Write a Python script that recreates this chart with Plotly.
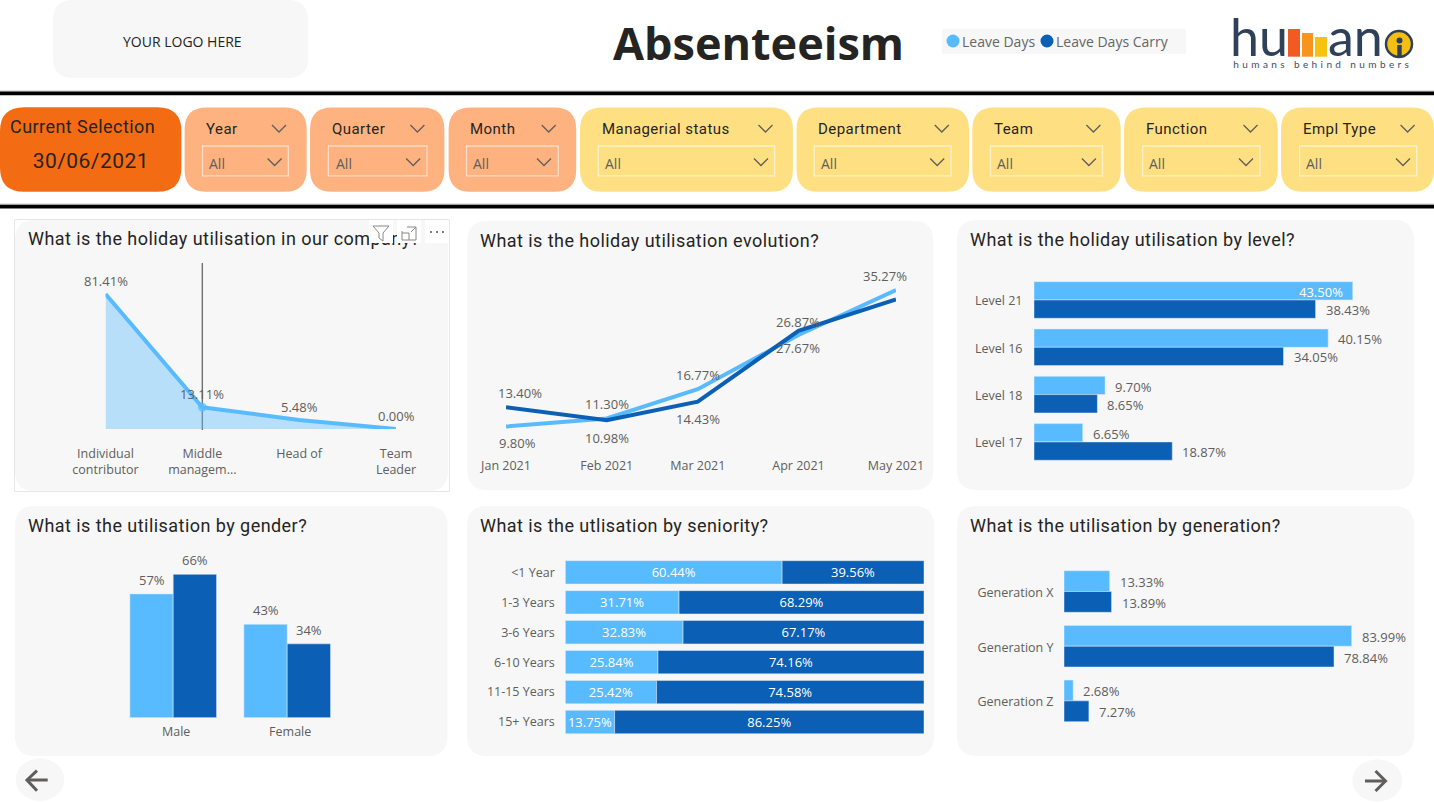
import plotly.graph_objects as go

W, H = 1434, 803
LIGHT = "#59BBFF"
DARK = "#0B5FB4"
AREA = "rgba(89,187,255,0.40)"
CARD = "#F7F7F7"
GREY = "#605E5C"
INK = "#252423"
DIN = "Roboto"
SEGOE = "Open Sans"

# ---------- data ----------
series_names = ["Leave Days", "Leave Days Carry"]
mgmt_cats = ["Individual<br>contributor", "Middle<br>managem...", "Head of", "Team<br>Leader"]
mgmt_vals = [81.41, 13.11, 5.48, 0.00]

months = ["2021-01-01", "2021-02-01", "2021-03-01", "2021-04-01", "2021-05-01"]
evo_light = [9.80, 11.30, 16.77, 26.87, 35.27]
evo_dark = [13.40, 10.98, 14.43, 27.67, 33.5]
evo_dark_labels = ["13.40%", "10.98%", "14.43%", "27.67%", ""]

level_cats = ["Level 21", "Level 16", "Level 18", "Level 17"]
level_light = [43.50, 40.15, 9.70, 6.65]
level_dark = [38.43, 34.05, 8.65, 18.87]

gender_cats = ["Male", "Female"]
gender_light = [57, 43]
gender_dark = [66, 34]

seniority_cats = ["<1 Year", "1-3 Years", "3-6 Years", "6-10 Years", "11-15 Years", "15+ Years"]
seniority_light = [60.44, 31.71, 32.83, 25.84, 25.42, 13.75]
seniority_dark = [39.56, 68.29, 67.17, 74.16, 74.58, 86.25]

generation_cats = ["Generation X", "Generation Y", "Generation Z"]
generation_light = [13.33, 83.99, 2.68]
generation_dark = [13.89, 78.84, 7.27]

card_titles = [
    "What is the holiday utilisation in our company?",
    "What is the holiday utilisation evolution?",
    "What is the holiday utilisation by level?",
    "What is the utilisation by gender?",
    "What is the utlisation by seniority?",
    "What is the utilisation by generation?",
]
slicer_names = ["Year", "Quarter", "Month", "Managerial status", "Department", "Team", "Function", "Empl Type"]

# ---------- helpers ----------
PX = lambda x: x / W
PY = lambda y: 1 - y / H
shapes, annos = [], []


def rrect(x0, y0, x1, y1, r, fill, line=None, layer="below"):
    a, b, c, d = PX(x0), PX(x1), PY(y0), PY(y1)
    rx, ry = r / W, r / H
    p = (f"M{a+rx},{c} L{b-rx},{c} Q{b},{c} {b},{c-ry} L{b},{d+ry} Q{b},{d} {b-rx},{d} "
         f"L{a+rx},{d} Q{a},{d} {a},{d+ry} L{a},{c-ry} Q{a},{c} {a+rx},{c} Z")
    shapes.append(dict(type="path", xref="paper", yref="paper", path=p, fillcolor=fill,
                       line=dict(width=0) if line is None else dict(width=1, color=line), layer=layer))


def rect(x0, y0, x1, y1, fill, line=None, layer="below", lw=1):
    shapes.append(dict(type="rect", xref="paper", yref="paper", x0=PX(x0), x1=PX(x1), y0=PY(y0), y1=PY(y1),
                       fillcolor=fill, line=dict(width=0) if line is None else dict(width=lw, color=line), layer=layer))


def ellipse(x0, y0, x1, y1, fill, line=None, layer="below", lw=1):
    shapes.append(dict(type="circle", xref="paper", yref="paper", x0=PX(x0), x1=PX(x1), y0=PY(y0), y1=PY(y1),
                       fillcolor=fill, line=dict(width=0) if line is None else dict(width=lw, color=line), layer=layer))


def poly(pts, color=GREY, width=1.3, layer="above"):
    p = "M" + " L".join(f"{PX(x)},{PY(y)}" for x, y in pts)
    shapes.append(dict(type="path", xref="paper", yref="paper", path=p, line=dict(color=color, width=width), layer=layer))


def text(x, y, s, size, color=INK, family=DIN, anchor="left", weight=None):
    f = dict(size=size, color=color, family=family)
    if weight:
        f["weight"] = weight
    annos.append(dict(xref="x7", yref="y7", x=x, y=y, text=s, showarrow=False, font=f,
                      xanchor=anchor, yanchor="middle", align=anchor, borderpad=0, borderwidth=0))


def chevron(cx, cy):
    poly([(cx - 7, cy - 3.5), (cx, cy + 3.5), (cx + 7, cy - 3.5)])


def label(ax, x, y, s, xshift=0, yshift=0, anchor="center", color=GREY):
    annos.append(dict(xref=f"x{ax}", yref=f"y{ax}", x=x, y=y, text=s, showarrow=False,
                      font=dict(size=13, color=color, family=SEGOE), xanchor=anchor, yanchor="middle",
                      xshift=xshift, yshift=yshift, borderpad=0))


TICKFONT = dict(size=12.5, color=GREY, family=SEGOE)
fig = go.Figure()


def panel(n, x0, x1, ytop, ybot, xa=None, ya=None):
    base = dict(showgrid=False, zeroline=False, showline=False, tickfont=TICKFONT, fixedrange=True,
                tickcolor="rgba(0,0,0,0)", ticks="outside", tickwidth=1)
    xd = dict(base, domain=[PX(x0), PX(x1)], anchor=f"y{n}", **(xa or {}))
    yd = dict(base, domain=[PY(ybot), PY(ytop)], anchor=f"x{n}", **(ya or {}))
    fig.update_layout({f"xaxis{n}": xd, f"yaxis{n}": yd})


# ---------- page furniture ----------
rrect(53, 0, 308, 78, 20, CARD)
text(182, 41, "YOUR LOGO HERE", 14, INK, SEGOE, "center")
text(758, 42, "Absenteeism", 45, INK, SEGOE, "center", 700)

rect(942, 29, 1186, 54, CARD)
ellipse(946.5, 34.5, 959.5, 47.5, LIGHT)
ellipse(1040.5, 34.5, 1053.5, 47.5, DARK)
text(962, 41, series_names[0], 14, "#666666", SEGOE)
text(1056, 41, series_names[1], 14, "#666666", SEGOE)

# humano logo
NAVY = "#2F4159"
text(1230, 36, "hu", 52, NAVY, "Lato")
rect(1288, 29, 1300, 56.7, "#F15A22", layer="above")
rect(1302, 33, 1313, 56.7, "#F7941D", layer="above")
rect(1315, 37, 1327, 56.7, "#F5C30F", layer="above")
text(1328, 36, "an", 52, NAVY, "Lato")
ellipse(1386, 31, 1412, 57, "#F5BE12", NAVY, "above", 2.5)
ellipse(1396.5, 37.5, 1402.5, 43.5, NAVY, layer="above")
rect(1397.3, 45, 1401.7, 56, NAVY, layer="above")
text(1323, 64, "humans behind numbers", 10, "#3D4D63", "Lato", "center")

# separators
rect(0, 90.5, W, 91.6, "#C8C8C8")
rect(0, 91.6, W, 95.2, "#000000")
rect(0, 203.6, W, 204.8, "#C8C8C8")
rect(0, 204.8, W, 208.6, "#000000")

# slicers
rrect(0, 107.3, 181.4, 191.7, 24, "#F36C13")
text(10, 126, "Current Selection", 18, INK)
text(90.5, 161, "30/06/2021", 21, INK, DIN, "center")
ORANGE, YELLOW = "#FDB27F", "#FEE083"
slicers = [
    (184.6, 306.7, 206, 279, 202.5, 288.3, 209, 274.6, ORANGE),
    (310, 444.4, 332, 417.4, 328.3, 427, 335.6, 413.2, ORANGE),
    (448.6, 576.2, 470, 548.7, 466.5, 558.3, 473, 544, ORANGE),
    (580, 792.9, 602, 765.5, 598.3, 774.6, 605, 761, YELLOW),
    (796.5, 969, 818, 941.8, 814.3, 951, 821, 937.2, YELLOW),
    (972.3, 1120.7, 994, 1093.4, 990.5, 1102.5, 997, 1088.9, YELLOW),
    (1124, 1277.8, 1146, 1250.5, 1142.6, 1260, 1149, 1246, YELLOW),
    (1281, 1434, 1303, 1407.6, 1299.7, 1416.7, 1306, 1403, YELLOW),
]
for name, (x0, x1, lx, cx, ix0, ix1, ax, icx, col) in zip(slicer_names, slicers):
    rrect(x0, 107.5, x1, 191.7, 22, col)
    rect(ix0, 146, ix1, 175.8, "rgba(0,0,0,0)", "rgba(255,255,255,0.55)", lw=1.3)
    text(lx, 129, name, 15, INK)
    text(ax, 163, "All", 14, GREY, SEGOE)
    chevron(cx, 128.5)
    chevron(icx, 162)

# cards
rect(14.5, 219.5, 449.5, 491.5, "rgba(0,0,0,0)", "#E6E6E6")
cards = [(15, 220, 448, 491), (467.3, 221, 933.3, 490), (957, 220, 1414, 490),
         (15, 506, 447.5, 756), (467, 506, 934, 756), (957, 506, 1414, 756)]
title_pos = [(28, 239), (480, 240), (970, 239), (28, 525), (480, 525), (970, 525)]
for (x0, y0, x1, y1) in cards:
    rrect(x0, y0, x1, y1, 20, CARD)
for s, (tx, ty) in list(zip(card_titles, title_pos))[1:]:
    text(tx, ty, s, 18, INK)

# nav buttons
ellipse(15.7, 758.3, 64.3, 801, CARD)
poly([(47.7, 780), (27.5, 780)], width=3)
poly([(37, 770.7), (27, 780), (37, 790.7)], width=3)
ellipse(1352.3, 759.3, 1402.3, 801.7, CARD)
poly([(1365, 781), (1385, 781)], width=3)
poly([(1375.5, 771), (1385.5, 781), (1375.5, 791)], width=3)

# focus icons over the first title
rect(369, 220, 393, 243, "#FFFFFF", layer="above")
rect(397, 220, 421, 243, "#FFFFFF", layer="above")
rect(425, 220, 449, 243, "#FFFFFF", layer="above")
poly([(373, 226), (389, 226), (383, 233), (383, 241), (379, 238), (379, 233), (373, 226)], color="#8A8886", width=1)
poly([(402, 231), (402, 240), (416, 240), (416, 227), (407, 227)], color="#8A8886", width=1)
poly([(402, 233), (409, 233), (409, 240)], color="#8A8886", width=1)
poly([(411, 232), (416, 227)], color="#8A8886", width=1)
for cx in (431, 437, 443):
    ellipse(cx - 1, 231, cx + 1, 233, "#555555", layer="above")

# full-page axis: first title drawn as a text trace so that the focus icons sit over it
panel(7, 0, W, 0, H,
      dict(range=[0, W], visible=False),
      dict(range=[H, 0], visible=False))
fig.add_trace(go.Scatter(x=[28], y=[240], xaxis="x7", yaxis="y7", mode="text", text=[card_titles[0]],
                         textposition="middle right", cliponaxis=False,
                         textfont=dict(size=18, color=INK, family=DIN), showlegend=False))

# ---------- chart 1: area by managerial status ----------
panel(1, 105.5, 396, 263, 429,
      dict(type="category", categoryorder="array", categoryarray=mgmt_cats, range=[0, 3], ticklen=13),
      dict(range=[0, 100.1], visible=False))
shapes.append(dict(type="line", xref="x1", yref="paper", x0=mgmt_cats[1], x1=mgmt_cats[1],
                   y0=PY(263), y1=PY(430), line=dict(color="#707070", width=1.4), layer="below"))
fig.add_trace(go.Scatter(x=mgmt_cats, y=mgmt_vals, xaxis="x1", yaxis="y1", mode="lines+markers",
                         line=dict(color=LIGHT, width=4), fill="tozeroy", fillcolor=AREA,
                         marker=dict(size=[0, 9, 0, 0], color=LIGHT, line=dict(width=0)),
                         cliponaxis=False, showlegend=False))
for c, v in zip(mgmt_cats, mgmt_vals):
    label(1, c, v, f"{v:.2f}%", 0, 13)

# ---------- chart 2: evolution ----------
panel(2, 506, 896, 262, 448,
      dict(type="date", range=[months[0], months[-1]], tickvals=months, tickformat="%b %Y", ticklen=6),
      dict(range=[5.79, 40.5], visible=False))
fig.add_trace(go.Scatter(x=months, y=evo_light, xaxis="x2", yaxis="y2", mode="lines",
                         line=dict(color=LIGHT, width=4), cliponaxis=False, showlegend=False))
fig.add_trace(go.Scatter(x=months, y=evo_dark, xaxis="x2", yaxis="y2", mode="lines",
                         line=dict(color=DARK, width=4), cliponaxis=False, showlegend=False))
light_off = [(11, -16.5), (0, 14), (0, 14), (-1, 13.5), (-11, 14)]
dark_off = [(14, 14), (0, -17.5), (0, -17), (-1, -17.5), (0, 0)]
for m, v, (dx, dy) in zip(months, evo_light, light_off):
    label(2, m, v, f"{v:.2f}%", dx, dy)
for m, v, s, (dx, dy) in zip(months, evo_dark, evo_dark_labels, dark_off):
    if s:
        label(2, m, v, s, dx, dy)

# ---------- chart 3: by level ----------
panel(3, 1034, 1400, 276.3, 465.6,
      dict(range=[0, 49.95], visible=False),
      dict(type="category", categoryorder="array", categoryarray=level_cats,
           range=[len(level_cats) - 0.5, -0.5], ticklen=8, ticklabelshift=-1))
fig.add_trace(go.Bar(y=level_cats, x=level_light, orientation="h", xaxis="x3", yaxis="y3", marker_color=LIGHT,
                     width=0.387, offset=-0.387, showlegend=False))
fig.add_trace(go.Bar(y=level_cats, x=level_dark, orientation="h", xaxis="x3", yaxis="y3", marker_color=DARK,
                     width=0.387, offset=0, showlegend=False))
for c, v in zip(level_cats, level_light):
    if v > 42:
        label(3, v, c, f"{v:.2f}%", -9, 8, "right", "#FFFFFF")
    else:
        label(3, v, c, f"{v:.2f}%", 9, 8, "left")
for c, v in zip(level_cats, level_dark):
    label(3, v, c, f"{v:.2f}%", 9, -10, "left")

# ---------- chart 4: by gender ----------
panel(4, 116.2, 344.2, 550, 717.7,
      dict(type="category", categoryorder="array", categoryarray=gender_cats, range=[-0.5, 1.5], ticklen=2,
           ticklabelshift=3),
      dict(range=[0, 77.2], visible=False))
fig.add_trace(go.Bar(x=gender_cats, y=gender_light, xaxis="x4", yaxis="y4", marker_color=LIGHT, showlegend=False))
fig.add_trace(go.Bar(x=gender_cats, y=gender_dark, xaxis="x4", yaxis="y4", marker_color=DARK, showlegend=False))
for c, v in zip(gender_cats, gender_light):
    label(4, c, v, f"{v}%", -21.6, 14)
for c, v in zip(gender_cats, gender_dark):
    label(4, c, v, f"{v}%", 21.6, 14)

# ---------- chart 5: by seniority (100% stacked) ----------
panel(5, 565.3, 924, 557.4, 737,
      dict(range=[0, 100], visible=False),
      dict(type="category", categoryorder="array", categoryarray=seniority_cats,
           range=[len(seniority_cats) - 0.5, -0.5], ticklen=7))
for vals, col, start in ((seniority_light, LIGHT, None), (seniority_dark, DARK, seniority_light)):
    fig.add_trace(go.Bar(y=seniority_cats, x=vals, base=start, orientation="h", xaxis="x5", yaxis="y5", marker_color=col,
                         width=0.78, offsetgroup="s", alignmentgroup="s",
                         text=[f"{v:.2f}%" for v in vals], textposition="inside", insidetextanchor="middle",
                         textangle=0, constraintext="none",
                         textfont=dict(size=13, color="#FFFFFF", family=SEGOE), showlegend=False))

# ---------- chart 6: by generation ----------
panel(6, 1064, 1400, 564.2, 728.2,
      dict(range=[0, 98.1], visible=False),
      dict(type="category", categoryorder="array", categoryarray=generation_cats,
           range=[len(generation_cats) - 0.5, -0.5], ticklen=7, ticklabelshift=-1))
fig.add_trace(go.Bar(y=generation_cats, x=generation_light, orientation="h", xaxis="x6", yaxis="y6", marker_color=LIGHT, showlegend=False))
fig.add_trace(go.Bar(y=generation_cats, x=generation_dark, orientation="h", xaxis="x6", yaxis="y6", marker_color=DARK, showlegend=False))
for c, v in zip(generation_cats, generation_light):
    label(6, v, c, f"{v:.2f}%", 9, 9.5, "left")
for c, v in zip(generation_cats, generation_dark):
    label(6, v, c, f"{v:.2f}%", 9, -11.5, "left")

fig.update_layout(
    width=W, height=H, margin=dict(l=0, r=0, t=0, b=0, pad=0, autoexpand=False), autosize=False,
    paper_bgcolor="#FFFFFF", plot_bgcolor="rgba(0,0,0,0)", showlegend=False, hovermode=False,
    barmode="group", shapes=shapes, annotations=annos,
    bargap=0.24, bargroupgap=0,
)

post = ("document.body.style.margin='0';document.documentElement.style.overflow='hidden';"
        "document.querySelectorAll('.annotation-text, .textpoint text').forEach(function(t){"
        "if(t.textContent==='humans behind numbers'){t.style.letterSpacing='3.4px';}"
        "else if((t.style.fontFamily||'').indexOf('Roboto')>=0 && t.textContent.length>3){t.style.letterSpacing='0.45px';}});")
fig.write_html("out.html", config={"displayModeBar": False}, post_script=post)
